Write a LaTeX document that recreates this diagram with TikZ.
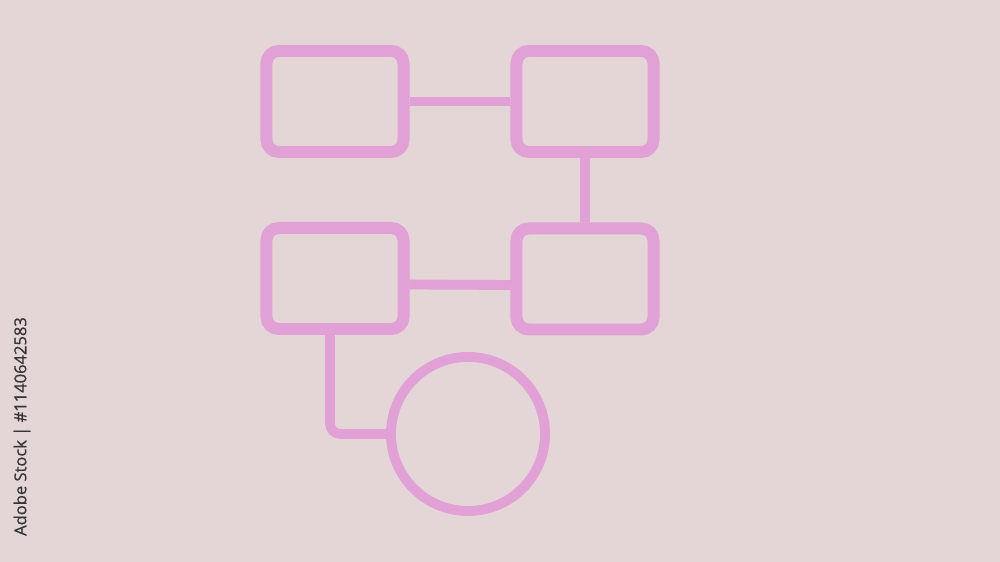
\documentclass[tikz,border=0pt]{standalone}
\usepackage{fontspec}
\newfontfamily\idfont[FakeBold=0.6]{Open Sans}
\usepackage{tikz}
\usetikzlibrary{positioning}

\definecolor{bgpink}{RGB}{228,214,215}
\definecolor{flowpink}{RGB}{224,124,214}
\definecolor{idgray}{RGB}{52,52,54}

\tikzset{
  box/.style={draw=flowpink,draw opacity=0.6,line width=3.4pt,rounded corners=3.5pt,
    minimum width=1.37cm,minimum height=1.01cm,inner sep=0pt},
  ring/.style={circle,draw=flowpink,draw opacity=0.6,line width=2.8pt,
    minimum size=1.54cm,inner sep=0pt},
  link/.style={draw=flowpink,draw opacity=0.6,line width=2.8pt}
}

\begin{document}
\begin{tikzpicture}[x=0.01cm,y=-0.01cm]
\fill[bgpink] (0,0) rectangle (1000,562);

\node [box] (tl) at (335,101.5) {};
\node [box] (tr) at (585,101.5) {};
\node [box] (bl) at (335,278.5) {};
\node [box] (br) at (585,279) {};
\node [ring] (c) at (468,434) {};

\draw [link] (tl.east) -- (tr.west);
\draw [link] (tr.south) -- (br.north);
\draw [link] ([yshift=-0.06cm]bl.east) -- ([yshift=-0.06cm]br.west);
\draw [link,rounded corners=3pt] ([xshift=-0.05cm]bl.south) |- (c.west);

\node [rotate=90,text=idgray,font=\idfont\fontsize{4.7}{6}\selectfont] (id) at (22,426.5) {Adobe Stock | \#1140642583};
\end{tikzpicture}
\end{document}
